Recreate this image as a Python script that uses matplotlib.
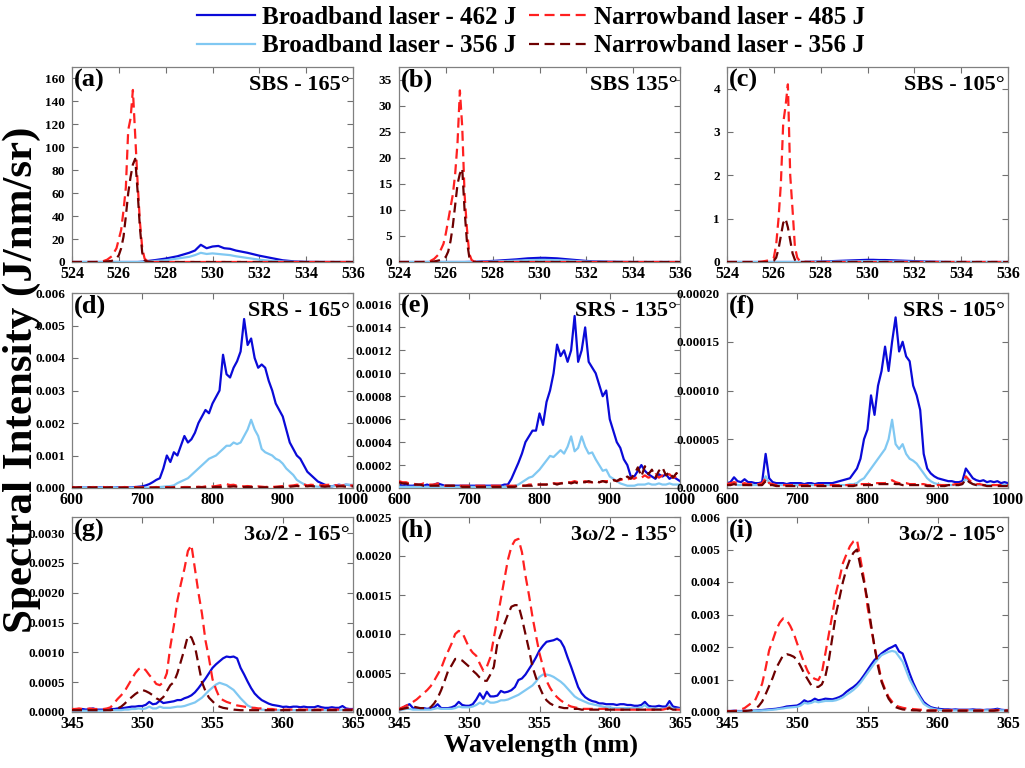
import numpy as np
import matplotlib
matplotlib.use('Agg')
import matplotlib.pyplot as plt
from matplotlib.lines import Line2D

plt.rcParams['font.family'] = ['Liberation Serif', 'DejaVu Serif']
plt.rcParams['font.weight'] = 'bold'

# ---------------- legend / series labels ----------------
series_labels = ['Broadband laser - 462 J', 'Broadband laser - 356 J',
                 'Narrowband laser - 485 J', 'Narrowband laser - 356 J']

# ---------------- x grids ----------------
sbs_x = [524, 524.5, 525, 525.3, 525.5, 525.7, 525.9, 526.0, 526.1, 526.2,
         526.3, 526.4, 526.5, 526.6, 526.7, 526.8, 526.9, 527.0, 527.1, 527.2,
         527.5, 528, 528.5, 529, 529.25, 529.5, 529.75, 530, 530.25, 530.5,
         530.75, 531, 531.5, 532, 532.5, 533, 533.5, 534, 535, 536]
srs_x = np.arange(600, 1001, 5)
tw_x = np.arange(345, 365.01, 0.25)

Z20 = [0] * 20

# ---------------- SBS (J/nm/sr) ----------------
a_b462 = [0, 0, 0, 0, 0, 0, 0, 0, 0, 0, 0, 0, 0, 0, 0, 0, 0.1, 0.3, 0.5, 0.8,
          1.5, 3, 5, 8, 10, 15, 12, 13.5, 14, 12, 11.5, 10, 8, 5.5, 3.5, 1.5, 0.5, 0.1, 0, 0]
a_b356 = [0, 0, 0, 0, 0, 0, 0, 0, 0, 0, 0, 0, 0, 0, 0, 0, 0.05, 0.2, 0.3, 0.4,
          0.8, 1.5, 3, 4.5, 6, 8, 7, 7.5, 7, 6.5, 6, 5, 3.5, 2, 1, 0.5, 0.2, 0, 0, 0]
a_n485 = [0, 0, 0, 0.5, 2, 5, 12, 20, 28, 45, 65, 115, 125, 150, 110, 70, 35, 12, 3, 1] + Z20
a_n356 = [0, 0, 0, 0, 0.5, 1, 3, 6, 12, 22, 40, 60, 74, 85, 90, 62, 30, 8, 1.5, 0.5] + Z20

b_b462 = [0] * 16 + [0.01, 0.02, 0.02, 0.02,
                     0.1, 0.2, 0.35, 0.5, 0.6, 0.7, 0.75, 0.8, 0.8, 0.75, 0.7, 0.6, 0.4, 0.2, 0.1, 0.05, 0.02, 0, 0, 0]
b_b356 = [0] * 16 + [0, 0.01, 0.01, 0.01,
                     0.05, 0.1, 0.18, 0.25, 0.3, 0.35, 0.38, 0.4, 0.4, 0.38, 0.35, 0.3, 0.2, 0.1, 0.05, 0.02, 0.01, 0, 0, 0]
b_n485 = [0, 0, 0, 0.1, 0.6, 1.5, 3.5, 5.5, 8, 10.5, 13, 17, 23, 33, 26, 13, 6.5, 1.6, 0.4, 0.1] + Z20
b_n356 = [0, 0, 0, 0, 0.1, 0.3, 0.6, 1, 2, 4, 7, 11, 15, 17, 18, 10, 4, 1, 0.2, 0] + Z20

c_b462 = Z20 + [0.005, 0.01, 0.02, 0.03, 0.035, 0.04, 0.045, 0.05, 0.05, 0.045,
                0.045, 0.04, 0.03, 0.02, 0.01, 0.005, 0, 0, 0, 0]
c_b356 = Z20 + [0.002, 0.005, 0.01, 0.012, 0.014, 0.016, 0.018, 0.02, 0.02, 0.018,
                0.016, 0.014, 0.01, 0.006, 0.003, 0.001, 0, 0, 0, 0]
c_n485 = [0, 0, 0, 0, 0.01, 0.03, 0.07, 0.1, 0.4, 1.0, 1.8, 3.2, 3.6, 4.1, 2.0, 1.2, 0.35, 0.1, 0.03, 0.01] + Z20
c_n356 = [0, 0, 0, 0, 0, 0, 0.01, 0.03, 0.1, 0.3, 0.6, 0.9, 1.0, 0.8, 0.5, 0.2, 0.05, 0.01, 0, 0] + Z20

# ---------------- SRS (units 1e-4 for d,e ; 1e-5 for f) ----------------
d_b462 = [0.2, 0.1, 0.2, 0.1, 0.1, 0.2, 0.1, 0.1, 0.2, 0.1,
          0.3, 0.1, 0.1, 0.2, 0.1, 0.1, 0.2, 0.2, 0.3, 0.4,
          0.5, 0.8, 1.2, 1.8, 2.5, 3.0, 6.0, 10, 8, 11,
          10, 13, 16, 14, 15, 17, 20, 22, 24, 23,
          26, 28, 30, 41, 35, 34, 37, 39, 42, 52,
          44, 46, 40, 37, 38, 37, 33, 30, 26, 24,
          22, 18, 14, 12, 10, 9, 7, 5, 4, 3,
          2, 1.5, 1, 0.6, 0.5, 0.8, 1, 0.8, 1, 0.9,
          0.8]
d_b356 = [0.1, 0.1, 0.1, 0.1, 0.1, 0.1, 0.1, 0.1, 0.1, 0.1,
          0.1, 0.1, 0.1, 0.1, 0.1, 0.1, 0.1, 0.1, 0.1, 0.1,
          0.1, 0.1, 0.1, 0.2, 0.2, 0.3, 0.4, 0.5, 0.6, 0.8,
          1.5, 2.0, 2.5, 3.0, 4.0, 5.0, 6.0, 7.0, 8.0, 9.0,
          9.5, 10, 11, 12, 13, 13, 14, 13.5, 14, 16,
          18, 21, 18, 16, 12, 11, 10.5, 10, 9, 8.5,
          7.5, 6, 5, 4, 2.5, 1.8, 1.2, 0.8, 0.6, 0.5,
          0.4, 0.4, 0.4, 0.5, 0.5, 0.6, 0.8, 0.9, 1.0, 1.0,
          1.0]
d_n485 = [0.3, 0.2, 0.2, 0.3, 0.2, 0.2, 0.3, 0.2, 0.2, 0.3,
          0.2, 0.2, 0.3, 0.2, 0.2, 0.3, 0.2, 0.2, 0.3, 0.2,
          0.2, 0.3, 0.2, 0.2, 0.3, 0.2, 0.2, 0.3, 0.2, 0.3,
          0.3, 0.2, 0.3, 0.3, 0.2, 0.3, 0.4, 0.3, 0.5, 0.4,
          0.5, 0.6, 0.8, 1.0, 1.2, 0.9, 1.0, 0.7, 0.6, 0.5,
          0.6, 0.5, 0.4, 0.5, 0.4, 0.3, 0.4, 0.3, 0.4, 0.5,
          0.6, 0.5, 0.7, 0.8, 1.0, 0.9, 1.1, 0.8, 1.0, 0.9,
          1.0, 0.8, 0.9, 1.0, 0.8, 0.9, 0.7, 0.8, 0.9, 0.8,
          0.8]
d_n356 = [0.2, 0.1, 0.2, 0.2, 0.1, 0.2, 0.1, 0.2, 0.1, 0.1,
          0.1, 0.2, 0.1, 0.1, 0.1, 0.1, 0.1, 0.1, 0.1, 0.1,
          0.1, 0.1, 0.1, 0.1, 0.1, 0.1, 0.1, 0.1, 0.1, 0.1,
          0.1, 0.1, 0.1, 0.1, 0.2, 0.2, 0.2, 0.2, 0.2, 0.2,
          0.2, 0.3, 0.3, 0.4, 0.5, 0.4, 0.5, 0.4, 0.3, 0.3,
          0.3, 0.3, 0.3, 0.2, 0.2, 0.2, 0.2, 0.2, 0.2, 0.3,
          0.3, 0.3, 0.4, 0.5, 0.6, 0.5, 0.6, 0.5, 0.6, 0.5,
          0.5, 0.5, 0.4, 0.5, 0.5, 0.4, 0.5, 0.5, 0.4, 0.5,
          0.5]

e_b462 = [0.3, 0.2, 0.3, 0.2, 0.2, 0.3, 0.2, 0.2, 0.3, 0.2,
          0.3, 0.4, 0.3, 0.2, 0.2, 0.2, 0.2, 0.2, 0.2, 0.2,
          0.2, 0.2, 0.2, 0.2, 0.2, 0.2, 0.2, 0.2, 0.2, 0.2,
          0.3, 0.3, 0.8, 1.5, 2.2, 3.0, 4.0, 4.5, 5.0, 5.0,
          6.5, 5.5, 7.5, 8.5, 10, 12.5, 11.5, 12, 11, 12,
          15, 11, 12, 14, 11, 10.5, 10, 9, 8, 8.5,
          6, 5, 4, 3.5, 2.5, 2, 1, 1, 1.5, 2,
          1.5, 1.2, 1.0, 0.8, 1.2, 1.0, 1.2, 0.8, 1.0, 0.8,
          0.6]
e_b356 = [0.1, 0.1, 0.1, 0.1, 0.1, 0.1, 0.1, 0.1, 0.1, 0.1,
          0.1, 0.1, 0.1, 0.1, 0.1, 0.1, 0.1, 0.1, 0.1, 0.1,
          0.1, 0.1, 0.1, 0.1, 0.1, 0.1, 0.1, 0.1, 0.1, 0.1,
          0.1, 0.1, 0.1, 0.2, 0.3, 0.5, 0.7, 0.9, 1.0, 1.3,
          1.6, 2.0, 2.4, 2.8, 2.7, 3.0, 3.3, 3.0, 3.6, 4.5,
          3.2, 3.5, 4.5, 3.6, 3.0, 3.1, 2.5, 2.0, 1.5, 1.6,
          1.0, 0.8, 0.6, 0.4, 0.3, 0.2, 0.2, 0.2, 0.3, 0.3,
          0.3, 0.4, 0.3, 0.3, 0.4, 0.3, 0.3, 0.4, 0.3, 0.3,
          0.3]
e_n485 = [0.6, 0.5, 0.5, 0.4, 0.4, 0.3, 0.3, 0.4, 0.3, 0.3,
          0.3, 0.4, 0.3, 0.2, 0.2, 0.2, 0.2, 0.2, 0.2, 0.2,
          0.2, 0.2, 0.2, 0.2, 0.2, 0.2, 0.2, 0.2, 0.2, 0.2,
          0.2, 0.2, 0.2, 0.2, 0.2, 0.2, 0.2, 0.3, 0.3, 0.3,
          0.3, 0.3, 0.3, 0.3, 0.4, 0.4, 0.4, 0.5, 0.5, 0.5,
          0.6, 0.5, 0.5, 0.6, 0.5, 0.5, 0.6, 0.5, 0.6, 0.6,
          0.6, 0.7, 0.6, 0.7, 0.8, 0.7, 0.9, 0.8, 1.0, 0.9,
          1.1, 0.9, 1.0, 1.2, 0.9, 1.1, 1.0, 1.2, 0.9, 1.0,
          1.0]
e_n356 = [0.5, 0.4, 0.4, 0.3, 0.3, 0.3, 0.3, 0.2, 0.2, 0.2,
          0.2, 0.2, 0.2, 0.2, 0.2, 0.2, 0.2, 0.2, 0.1, 0.1,
          0.1, 0.1, 0.1, 0.1, 0.1, 0.1, 0.1, 0.1, 0.1, 0.1,
          0.1, 0.1, 0.1, 0.1, 0.2, 0.2, 0.2, 0.2, 0.2, 0.3,
          0.3, 0.3, 0.3, 0.4, 0.4, 0.3, 0.4, 0.4, 0.5, 0.4,
          0.5, 0.4, 0.5, 0.5, 0.6, 0.5, 0.6, 0.5, 0.6, 0.5,
          0.6, 0.7, 0.6, 0.8, 0.7, 1.0, 0.8, 1.2, 1.8, 1.0,
          1.9, 1.2, 1.6, 0.9, 1.5, 1.8, 1.1, 1.4, 0.9, 1.3,
          1.0]

f_b462 = [0.5, 0.6, 1.1, 0.7, 0.6, 0.9, 0.6, 0.6, 0.5, 0.5,
          0.6, 3.5, 1.0, 0.6, 0.5, 0.5, 0.5, 0.4, 0.5, 0.5,
          0.5, 0.5, 0.4, 0.5, 0.5, 0.4, 0.5, 0.5, 0.5, 0.5,
          0.5, 0.6, 0.7, 0.8, 0.9, 1.0, 1.5, 2.0, 3.0, 5.0,
          6.0, 9.5, 7.5, 10.5, 12, 14.5, 12, 15, 17.5, 14,
          15, 13.5, 13, 10.5, 9.5, 8, 3.5, 2.0, 1.5, 1.2,
          1.0, 0.9, 0.8, 0.7, 0.7, 0.6, 0.6, 0.7, 2.0, 1.5,
          1.0, 0.8, 0.7, 0.8, 0.6, 0.7, 0.6, 0.7, 0.5, 0.6,
          0.5]
f_b356 = [0.3, 0.3, 0.5, 0.3, 0.3, 0.4, 0.3, 0.3, 0.3, 0.3,
          0.3, 1.2, 0.5, 0.3, 0.3, 0.3, 0.3, 0.3, 0.3, 0.3,
          0.3, 0.3, 0.3, 0.3, 0.3, 0.3, 0.3, 0.3, 0.3, 0.3,
          0.3, 0.3, 0.3, 0.3, 0.3, 0.4, 0.4, 0.5, 0.8, 1.0,
          1.5, 2.0, 2.5, 3.0, 3.5, 4.0, 5.0, 7.0, 4.5, 4.0,
          4.5, 3.5, 3.0, 2.8, 2.5, 2.0, 1.5, 1.0, 0.7, 0.5,
          0.4, 0.3, 0.3, 0.3, 0.3, 0.3, 0.3, 0.4, 1.0, 0.6,
          0.4, 0.3, 0.3, 0.3, 0.3, 0.3, 0.3, 0.3, 0.3, 0.3,
          0.3]
f_n485 = [0.4, 0.5, 0.6, 0.5, 0.4, 0.5, 0.4, 0.4, 0.4, 0.4,
          0.5, 1.0, 0.5, 0.4, 0.3, 0.3, 0.3, 0.3, 0.3, 0.3,
          0.3, 0.3, 0.3, 0.3, 0.3, 0.3, 0.3, 0.3, 0.3, 0.3,
          0.3, 0.3, 0.3, 0.3, 0.3, 0.3, 0.3, 0.4, 0.4, 0.4,
          0.4, 0.4, 0.5, 0.5, 0.5, 0.5, 0.6, 0.8, 0.6, 0.5,
          0.5, 0.5, 0.4, 0.4, 0.4, 0.4, 0.4, 0.3, 0.3, 0.3,
          0.3, 0.3, 0.3, 0.3, 0.3, 0.4, 0.4, 0.5, 1.2, 0.8,
          0.5, 0.4, 0.4, 0.3, 0.3, 0.3, 0.3, 0.3, 0.3, 0.3,
          0.3]
f_n356 = [0.3, 0.3, 0.4, 0.3, 0.3, 0.3, 0.3, 0.3, 0.3, 0.3,
          0.3, 0.7, 0.3, 0.3, 0.2, 0.2, 0.2, 0.2, 0.2, 0.2,
          0.2, 0.2, 0.2, 0.2, 0.2, 0.2, 0.2, 0.2, 0.2, 0.2,
          0.2, 0.2, 0.2, 0.2, 0.2, 0.2, 0.2, 0.3, 0.3, 0.3,
          0.3, 0.3, 0.3, 0.4, 0.4, 0.4, 0.4, 0.5, 0.4, 0.4,
          0.3, 0.3, 0.3, 0.3, 0.3, 0.3, 0.3, 0.2, 0.2, 0.2,
          0.2, 0.2, 0.2, 0.3, 0.3, 0.3, 0.3, 0.4, 0.9, 0.6,
          0.4, 0.3, 0.3, 0.3, 0.2, 0.2, 0.2, 0.2, 0.2, 0.2,
          0.2]

# ---------------- 3w/2 (units 1e-4), 0.25 nm steps ----------------
g_b462 = [0.4, 0.5, 0.4, 0.5, 0.4, 0.5, 0.6, 0.4, 0.4, 0.4, 0.5, 0.5,
          0.5, 0.6, 0.6, 0.7, 0.8, 0.9, 0.9, 1.0, 1.0, 1.2, 1.7, 1.3,
          1.4, 1.9, 1.5, 1.6, 1.7, 1.8, 2.0, 2.0, 2.3, 2.5, 2.8, 3.3,
          4.0, 4.8, 5.6, 6.5, 7.4, 8.0, 8.5, 9.0, 9.3, 9.2, 9.3, 9.0,
          7.4, 6.3, 5.1, 4.0, 3.1, 2.5, 2.0, 1.7, 1.4, 1.2, 1.1, 1.0,
          0.85, 0.9, 0.8, 0.9, 0.9, 0.8, 0.9, 0.8, 0.8, 0.8, 1.0, 0.8,
          0.7, 0.7, 0.8, 0.7, 0.7, 1.0, 0.6, 0.5, 0.5]
g_b356 = [0.2, 0.2, 0.2, 0.2, 0.2, 0.2, 0.2, 0.2, 0.2, 0.2, 0.3, 0.3,
          0.3, 0.3, 0.3, 0.4, 0.4, 0.5, 0.5, 0.6, 0.5, 0.6, 0.9, 0.6,
          0.6, 0.9, 0.7, 0.7, 0.7, 0.8, 0.9, 0.9, 1.0, 1.2, 1.4, 1.6,
          2.0, 2.4, 3.0, 3.6, 4.1, 4.6, 4.9, 4.7, 4.5, 4.1, 3.7, 3.0,
          2.3, 1.7, 1.1, 0.8, 0.6, 0.5, 0.4, 0.35, 0.35, 0.3, 0.3, 0.3,
          0.3, 0.3, 0.3, 0.3, 0.3, 0.3, 0.3, 0.3, 0.3, 0.3, 0.4, 0.3,
          0.3, 0.3, 0.3, 0.3, 0.3, 0.4, 0.3, 0.3, 0.3]
g_n485 = [0.5, 0.5, 0.6, 0.5, 0.5, 0.6, 0.5, 0.5, 0.5, 0.5, 0.6, 0.8,
          1.5, 2.2, 2.8, 3.5, 4.5, 5.5, 6.5, 7.2, 7.5, 7.0, 6.2, 5.5,
          4.7, 4.5, 5.0, 6.5, 11, 14.5, 18.7, 21.5, 24, 27, 28, 24,
          20, 16.5, 12, 9, 5.5, 3.8, 2.4, 2.0, 1.7, 1.5, 1.3, 1.1,
          1.0, 0.9, 0.8, 0.7, 0.7, 0.6, 0.6, 0.5, 0.5, 0.5, 0.4, 0.4,
          0.4, 0.4, 0.4, 0.4, 0.4, 0.4, 0.4, 0.4, 0.4, 0.4, 0.4, 0.4,
          0.4, 0.4, 0.4, 0.4, 0.4, 0.4, 0.4, 0.4, 0.4]
g_n356 = [0.3, 0.3, 0.3, 0.3, 0.3, 0.3, 0.3, 0.3, 0.3, 0.3, 0.3, 0.3,
          0.4, 0.6, 0.9, 1.4, 2.0, 2.5, 3.0, 3.4, 3.7, 3.5, 3.2, 2.8,
          2.3, 2.0, 2.5, 3.5, 4.5, 5.0, 6.5, 8.5, 10.5, 12.8, 12.5, 11,
          8, 5, 3.5, 2.4, 1.8, 1.2, 0.9, 0.7, 0.6, 0.5, 0.4, 0.35,
          0.3, 0.3, 0.3, 0.3, 0.3, 0.3, 0.3, 0.3, 0.3, 0.3, 0.3, 0.3,
          0.3, 0.3, 0.3, 0.3, 0.3, 0.3, 0.3, 0.3, 0.3, 0.3, 0.3, 0.3,
          0.3, 0.3, 0.3, 0.3, 0.3, 0.3, 0.3, 0.3, 0.3]

h_b462 = [0.4, 0.5, 0.8, 1.0, 0.5, 0.4, 0.4, 0.5, 0.4, 0.5, 0.6, 1.0,
          0.5, 0.5, 0.5, 0.6, 0.8, 1.3, 0.9, 0.8, 0.8, 1.0, 1.6, 2.4,
          1.7, 2.6, 2.0, 2.0, 2.1, 2.7, 2.5, 2.6, 2.8, 3.2, 4.1, 4.3,
          4.8, 5.5, 6.2, 7.0, 7.9, 8.5, 9.0, 9.1, 9.2, 9.4, 9.1, 8.3,
          7.0, 5.8, 4.5, 3.2, 2.4, 1.9, 1.6, 1.4, 1.3, 1.1, 1.1, 1.0,
          1.0, 1.0, 0.9, 1.0, 1.0, 0.9, 0.9, 0.8, 0.8, 0.9, 1.3, 0.8,
          0.7, 0.7, 0.8, 0.7, 0.7, 1.4, 0.7, 0.6, 0.5]
h_b356 = [0.2, 0.3, 0.4, 0.4, 0.3, 0.3, 0.3, 0.3, 0.3, 0.3, 0.4, 0.5,
          0.4, 0.4, 0.4, 0.4, 0.5, 0.7, 0.6, 0.6, 0.6, 0.7, 0.9, 1.2,
          1.0, 1.5, 1.2, 1.2, 1.3, 1.5, 1.5, 1.6, 1.8, 2.0, 2.2, 2.5,
          2.8, 3.1, 3.4, 3.9, 4.5, 4.8, 4.8, 4.7, 4.5, 4.2, 3.9, 3.5,
          3.0, 2.5, 2.0, 1.7, 1.5, 1.3, 1.1, 1.0, 0.9, 0.8, 0.7, 0.6,
          0.6, 0.5, 0.5, 0.5, 0.5, 0.5, 0.5, 0.5, 0.5, 0.6, 0.9, 0.5,
          0.5, 0.4, 0.4, 0.4, 0.4, 0.8, 0.4, 0.4, 0.4]
h_n485 = [0.4, 0.6, 0.8, 1.0, 1.3, 1.6, 2.0, 2.4, 2.8, 3.3, 4.0, 4.8,
          5.6, 6.8, 7.8, 8.8, 10.0, 10.4, 10.2, 9.2, 8.2, 7.6, 7.2, 6.2,
          5.3, 5.8, 7.0, 9.5, 12.0, 14.5, 17.0, 19.5, 21.2, 22.0, 22.2, 20.5,
          17.5, 15.0, 12.2, 9.8, 7.5, 5.8, 4.0, 3.1, 2.4, 1.9, 1.5, 1.2,
          0.9, 0.7, 0.6, 0.5, 0.4, 0.4, 0.4, 0.4, 0.4, 0.4, 0.4, 0.4,
          0.3, 0.3, 0.3, 0.3, 0.3, 0.3, 0.3, 0.3, 0.3, 0.3, 0.3, 0.3,
          0.3, 0.3, 0.3, 0.3, 0.4, 0.6, 0.4, 0.3, 0.3]
h_n356 = [0.3, 0.4, 0.5, 0.6, 0.7, 0.6, 0.5, 0.5, 0.5, 0.6, 1.1, 1.8,
          2.8, 4.0, 5.3, 6.0, 6.8, 6.8, 6.6, 6.2, 5.8, 5.3, 4.9, 4.4,
          4.0, 4.0, 4.8, 5.8, 8.8, 10, 11.3, 12.5, 13.5, 13.7, 13.7, 12,
          10, 8, 5.8, 4.4, 3.2, 2.2, 1.5, 1.1, 0.85, 0.7, 0.6, 0.5,
          0.5, 0.4, 0.4, 0.4, 0.3, 0.3, 0.3, 0.3, 0.3, 0.3, 0.3, 0.3,
          0.3, 0.3, 0.3, 0.3, 0.3, 0.3, 0.3, 0.3, 0.3, 0.3, 0.3, 0.3,
          0.3, 0.3, 0.3, 0.3, 0.3, 0.5, 0.3, 0.3, 0.3]

i_b462 = [0.3, 0.3, 0.4, 0.3, 0.3, 0.4, 0.3, 0.4, 0.4, 0.5, 0.6, 0.7,
          0.8, 0.9, 1.0, 1.2, 1.4, 1.7, 1.8, 1.9, 2.0, 2.6, 3.6, 3.1,
          3.4, 4.1, 3.6, 3.8, 4.1, 4.0, 3.9, 4.2, 4.6, 5.2, 6.2, 7.0,
          7.7, 8.6, 9.8, 11.3, 12.9, 14.5, 16, 17, 18, 18.8, 19.5, 20,
          20.6, 18.6, 18, 15, 11.8, 9, 6.7, 4.8, 3.1, 2.2, 1.5, 1.2,
          1.0, 0.9, 0.8, 0.8, 0.7, 0.8, 0.7, 0.7, 0.7, 0.7, 0.8, 0.7,
          0.7, 0.6, 0.7, 0.7, 0.8, 1.0, 0.7, 0.6, 0.6]
i_b356 = [0.2, 0.2, 0.3, 0.2, 0.2, 0.3, 0.2, 0.3, 0.3, 0.4, 0.5, 0.5,
          0.6, 0.7, 0.8, 1.0, 1.1, 1.3, 1.4, 1.5, 1.6, 2.0, 2.8, 2.6,
          2.8, 3.3, 3.0, 3.2, 3.4, 3.4, 3.4, 3.6, 4.0, 4.5, 5.3, 6.0,
          6.8, 7.8, 9.0, 10.5, 12, 13.5, 15, 16.3, 17.5, 18, 18.5, 18.8,
          18.5, 17, 15.5, 12.8, 10, 8, 6, 4.2, 2.5, 1.8, 1.2, 0.9,
          0.7, 0.6, 0.6, 0.5, 0.5, 0.5, 0.5, 0.5, 0.5, 0.5, 0.5, 0.5,
          0.5, 0.5, 0.5, 0.5, 0.5, 0.7, 0.5, 0.5, 0.5]
i_n485 = [0.3, 0.3, 0.3, 0.5, 0.8, 1.2, 2.0, 2.8, 3.6, 6, 8.7, 13.5,
          19, 22, 25.2, 27.5, 28.8, 28.3, 26.5, 24.2, 21, 18, 15, 12.5,
          10.8, 10.2, 9.8, 12, 18, 24, 30, 36.5, 41, 45.8, 48.5, 51,
          52.5, 53, 47, 41, 32.4, 26, 20, 15, 9.8, 7, 4.6, 3.2,
          2.0, 1.6, 1.3, 1.1, 1.0, 0.9, 0.8, 0.7, 0.6, 0.5, 0.5, 0.5,
          0.5, 0.5, 0.5, 0.5, 0.5, 0.5, 0.5, 0.5, 0.5, 0.5, 0.5, 0.5,
          0.5, 0.5, 0.5, 0.5, 0.5, 0.6, 0.5, 0.5, 0.5]
i_n356 = [0.2, 0.2, 0.2, 0.2, 0.3, 0.3, 0.4, 0.5, 1.0, 1.8, 3.2, 5.5,
          8, 10.5, 13.5, 15.5, 17.5, 17.8, 17.5, 17, 16, 14, 11.8, 10,
          8.2, 7.8, 7.7, 8.5, 11, 16, 23, 30, 35, 40, 44, 47,
          49, 50, 44.8, 40, 34.5, 27, 20, 14, 9.3, 6.5, 4.1, 2.6,
          1.5, 1.1, 0.8, 0.7, 0.6, 0.5, 0.5, 0.4, 0.4, 0.4, 0.4, 0.4,
          0.4, 0.4, 0.4, 0.4, 0.4, 0.4, 0.4, 0.4, 0.4, 0.4, 0.4, 0.4,
          0.4, 0.4, 0.4, 0.4, 0.4, 0.5, 0.4, 0.4, 0.4]

# ---------------- panel text / ticks ----------------
panel_letters = ['(a)', '(b)', '(c)', '(d)', '(e)', '(f)', '(g)', '(h)', '(i)']
panel_titles = ['SBS - 165°', 'SBS 135°', 'SBS - 105°',
                'SRS - 165°', 'SRS - 135°', 'SRS - 105°',
                '3ω/2 - 165°', '3ω/2 - 135°', '3ω/2 - 105°']
sbs_xticks = ['524', '526', '528', '530', '532', '534', '536']
srs_xticks = ['600', '700', '800', '900', '1000']
tw_xticks = ['345', '350', '355', '360', '365']
yticks_a = ['0', '20', '40', '60', '80', '100', '120', '140', '160']
yticks_b = ['0', '5', '10', '15', '20', '25', '30', '35']
yticks_c = ['0', '1', '2', '3', '4']
yticks_d = ['0.000', '0.001', '0.002', '0.003', '0.004', '0.005', '0.006']
yticks_e = ['0.0000', '0.0002', '0.0004', '0.0006', '0.0008', '0.0010',
            '0.0012', '0.0014', '0.0016']
yticks_f = ['0.00000', '0.00005', '0.00010', '0.00015', '0.00020']
yticks_g = ['0.0000', '0.0005', '0.0010', '0.0015', '0.0020', '0.0025', '0.0030']
yticks_h = ['0.0000', '0.0005', '0.0010', '0.0015', '0.0020', '0.0025']
yticks_i = ['0.000', '0.001', '0.002', '0.003', '0.004', '0.005', '0.006']
ylims = [170, 37.5, 4.5, 0.006, 0.0017, 0.0002, 0.00327, 0.0025, 0.006]

panels = [
    (sbs_x, [a_b462, a_b356, a_n485, a_n356], 1.0, (524, 536), sbs_xticks, yticks_a),
    (sbs_x, [b_b462, b_b356, b_n485, b_n356], 1.0, (524, 536), sbs_xticks, yticks_b),
    (sbs_x, [c_b462, c_b356, c_n485, c_n356], 1.0, (524, 536), sbs_xticks, yticks_c),
    (srs_x, [d_b462, d_b356, d_n485, d_n356], 1e-4, (600, 1000), srs_xticks, yticks_d),
    (srs_x, [e_b462, e_b356, e_n485, e_n356], 1e-4, (600, 1000), srs_xticks, yticks_e),
    (srs_x, [f_b462, f_b356, f_n485, f_n356], 1e-5, (600, 1000), srs_xticks, yticks_f),
    (tw_x, [g_b462, g_b356, g_n485, g_n356], 1e-4, (345, 365), tw_xticks, yticks_g),
    (tw_x, [h_b462, h_b356, h_n485, h_n356], 1e-4, (345, 365), tw_xticks, yticks_h),
    (tw_x, [i_b462, i_b356, i_n485, i_n356], 1e-4, (345, 365), tw_xticks, yticks_i),
]

colors = ['#0a0ad8', '#80c8f2', '#ff2020', '#6e0000']
dashed = [False, False, True, True]

fig = plt.figure(figsize=(10.25, 7.68), dpi=100)
W, H = 1025.0, 768.0
col_left = [72, 399, 727]
row_top = [67, 293, 517]
aw, ah = 281, 195

for k, (xs, ser, sc, xl, xt, yt) in enumerate(panels):
    r, c = divmod(k, 3)
    ax = fig.add_axes([col_left[c] / W, 1 - (row_top[r] + ah) / H, aw / W, ah / H])
    for j, s in enumerate(ser):
        y = np.asarray(s, dtype=float) * sc
        if dashed[j]:
            ax.plot(xs, y, color=colors[j], lw=1.6, dashes=(4.5, 2.5), zorder=2 + j)
        else:
            ax.plot(xs, y, color=colors[j], lw=1.6, zorder=2 + j)
    ax.set_xlim(*xl)
    ax.set_ylim(0, ylims[k])
    ax.set_xticks([float(t) for t in xt])
    ax.set_xticklabels(xt, fontsize=11.5, fontweight='bold')
    ax.set_yticks([float(t) for t in yt])
    ax.set_yticklabels(yt, fontsize=9.5, fontweight='bold')
    ax.tick_params(direction='in', top=True, right=True, length=4, width=0.8,
                   color='#707070')
    ax.tick_params(axis='x', pad=3)
    ax.tick_params(axis='y', pad=5)
    for sp in ax.spines.values():
        sp.set_color('#808080')
        sp.set_linewidth(0.9)
    ax.text(0.008, 0.93, panel_letters[k], transform=ax.transAxes, fontsize=19,
            fontweight='bold', ha='left', va='center')
    ax.text(0.99, 0.91, panel_titles[k], transform=ax.transAxes, fontsize=16,
            fontweight='bold', ha='right', va='center')

handles = []
for j in range(4):
    if dashed[j]:
        handles.append(Line2D([], [], color=colors[j], lw=1.6, dashes=(4.5, 2.5)))
    else:
        handles.append(Line2D([], [], color=colors[j], lw=1.6, linestyle='-'))
fig.legend(handles, series_labels, ncol=2, loc='upper center',
           bbox_to_anchor=(0.518, 1.012), frameon=False,
           prop={'family': 'Liberation Serif', 'weight': 'bold', 'size': 18},
           handlelength=2.3, handletextpad=0.3, columnspacing=0.5,
           labelspacing=0.22, borderpad=0.1)

fig.text(0.021, 0.505, 'Spectral Intensity (J/nm/sr)', rotation=90, fontsize=31,
         fontweight='bold', ha='center', va='center')
fig.text(0.528, 0.030, 'Wavelength (nm)', fontsize=19, fontweight='bold',
         ha='center', va='center')

fig.savefig('out.png', dpi=100)
